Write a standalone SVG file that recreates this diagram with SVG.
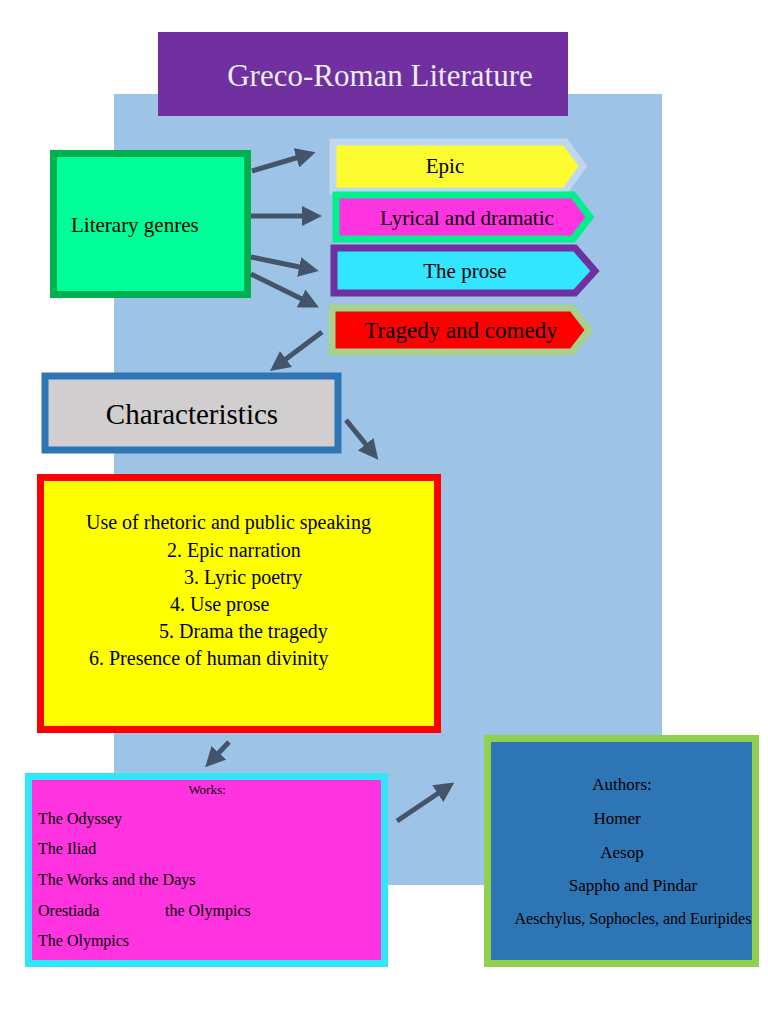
<svg xmlns="http://www.w3.org/2000/svg" width="768" height="1024" viewBox="0 0 768 1024">
<style>
text{font-family:"Liberation Serif",serif;fill:#000}
.c{stroke:#44546a;stroke-width:5;fill:none;marker-end:url(#ah)}
</style>
<defs><marker id="ah" markerWidth="4" markerHeight="4" refX="2" refY="2" orient="auto" markerUnits="strokeWidth"><path d="M0,0L4,2L0,4Z" fill="#44546a"/></marker></defs>
<rect width="768" height="1024" fill="#fff"/>
<rect x="114" y="94" width="548" height="791" fill="#9dc3e6"/>
<g id="title"><rect x="158" y="32" width="410" height="84" fill="#7030a0"/><text x="380" y="86" font-size="31" text-anchor="middle" style="fill:#ececf8">Greco-Roman Literature</text></g>
<g id="genres"><rect x="53.5" y="153.5" width="194" height="141" fill="#00ff99" stroke="#00b050" stroke-width="7"/><text x="71" y="232" font-size="21">Literary genres</text></g>
<g id="epic"><path d="M333,142H565L583,166L565,191H333Z" fill="#fcfc30" stroke="#c0d8ef" stroke-width="7"/><text x="445" y="173" font-size="21" text-anchor="middle">Epic</text></g>
<g id="lyrical"><path d="M336,195H573L590,217L573,239H336Z" fill="#ff33e0" stroke="#00f08e" stroke-width="7"/><text x="467" y="225" font-size="21" text-anchor="middle">Lyrical and dramatic</text></g>
<g id="prose"><path d="M334,248H575L595,271L575,293H334Z" fill="#33e6ff" stroke="#7030a0" stroke-width="7"/><text x="465" y="278" font-size="21" text-anchor="middle">The prose</text></g>
<g id="tragedy"><path d="M332,308H572L589,330L572,352H332Z" fill="#ff0000" stroke="#a9d18e" stroke-width="7"/><text x="461" y="338" font-size="23" text-anchor="middle">Tragedy and comedy</text></g>
<g id="characteristics"><rect x="45" y="376" width="293" height="74" fill="#d0cece" stroke="#2e75b6" stroke-width="7"/><text x="192" y="424" font-size="29" text-anchor="middle">Characteristics</text></g>
<g id="list"><rect x="40.5" y="477.5" width="397" height="252" fill="#ffff00" stroke="#ff0000" stroke-width="7"/>
<g font-size="20"><text x="86" y="529">Use of rhetoric and public speaking</text><text x="167" y="557">2. Epic narration</text><text x="184" y="584">3. Lyric poetry</text><text x="170" y="611">4. Use prose</text><text x="159" y="638">5. Drama the tragedy</text><text x="89" y="665">6. Presence of human divinity</text></g></g>
<g id="works"><rect x="28.5" y="776.5" width="356" height="187" fill="#ff33e0" stroke="#33e6f7" stroke-width="7"/>
<text x="207" y="794" font-size="13" text-anchor="middle">Works:</text>
<g font-size="16"><text x="38" y="824">The Odyssey</text><text x="38" y="854">The Iliad</text><text x="38" y="885">The Works and the Days</text><text x="38" y="916">Orestiada</text><text x="165" y="916">the Olympics</text><text x="38" y="946">The Olympics</text></g></g>
<g id="authors"><rect x="487.5" y="738.5" width="268" height="225" fill="#2e75b6" stroke="#92d050" stroke-width="7"/>
<g font-size="17" text-anchor="middle"><text x="622" y="790">Authors:</text><text x="617" y="824">Homer</text><text x="622" y="858">Aesop</text><text x="633" y="891">Sappho and Pindar</text><text x="633" y="924" font-size="16">Aeschylus, Sophocles, and Euripides</text></g></g>
<g id="connectors">
<path class="c" d="M252,171L306,155"/>
<path class="c" d="M251,216L312,216"/>
<path class="c" d="M251,257L309,269"/>
<path class="c" d="M251,274L310,303"/>
<path class="c" d="M322,332L278,365"/>
<path class="c" d="M346,420L372,452"/>
<path class="c" d="M229,742L212,760"/>
<path class="c" d="M397,821L446,788"/>
</g>
</svg>
